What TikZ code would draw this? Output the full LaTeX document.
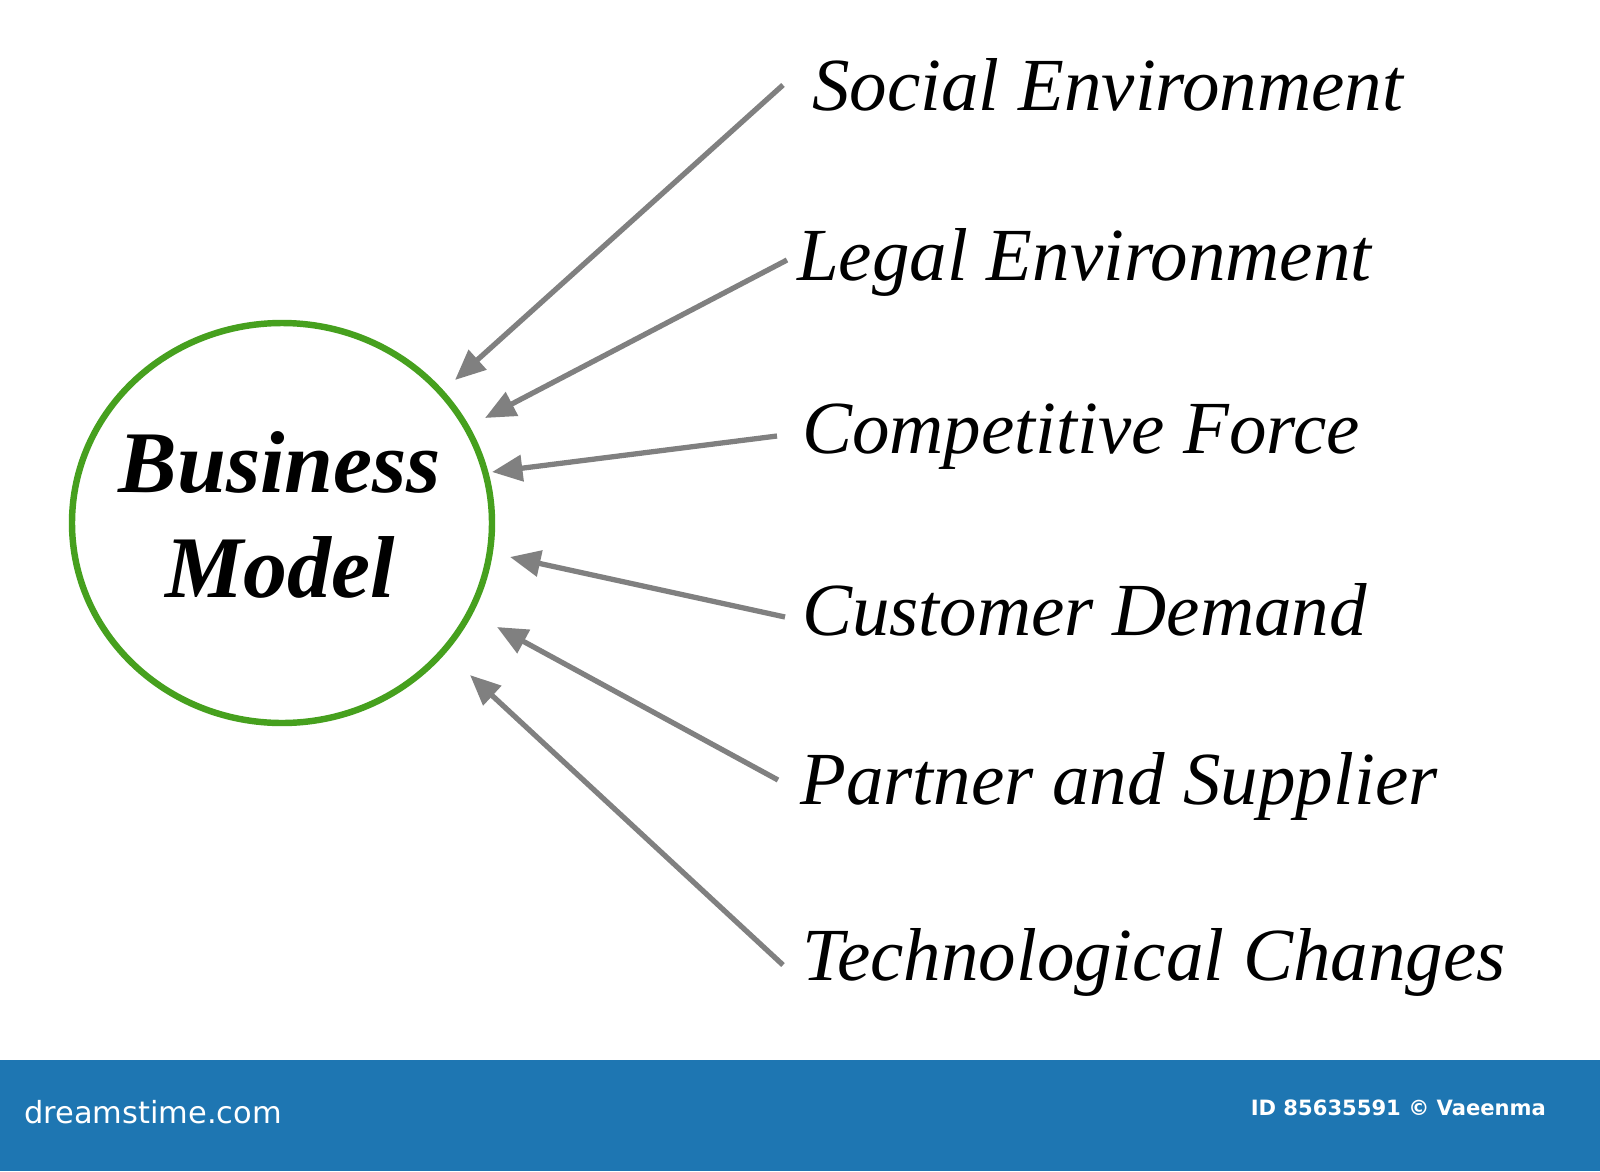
\documentclass[tikz,border=0pt]{standalone}
\usepackage{fontspec}
\setmainfont{Liberation Serif}
\newfontfamily\barfont{DejaVu Sans}
\usetikzlibrary{arrows.meta}
\definecolor{cgreen}{RGB}{70,160,30}
\definecolor{cgray}{RGB}{128,128,128}
\definecolor{cbar}{RGB}{30,118,178}
\begin{document}
\begin{tikzpicture}[x=0.03cm,y=-0.03cm,
  lbl/.style={anchor=west,inner sep=0,font=\fontsize{64}{68}\selectfont\itshape},
  arr/.style={draw=cgray,line width=4.5pt,-{Triangle[length=26pt,width=22pt,fill=cgray]}}]
\useasboundingbox (0,0) rectangle (1600,1171);
\fill[white] (0,0) rectangle (1600,1171);
\draw[cgreen,line width=5.5pt] (282,523) ellipse [x radius=210,y radius=200];
\node[align=center,font=\fontsize{75}{89}\selectfont\bfseries\itshape] (bm) at (280,515) {Business\\Model};
\node[lbl] (l1) at (812,85) {Social Environment};
\node[lbl] (l2) at (797,262) {Legal Environment};
\node[lbl] (l3) at (802,437) {Competitive Force};
\node[lbl] (l4) at (802,610) {Customer Demand};
\node[lbl] (l5) at (800,786) {Partner and Supplier};
\node[lbl] (l6) at (802,962) {Technological Changes};
\coordinate (s1) at (783,85); \coordinate (e1) at (455,380);
\coordinate (s2) at (787,260); \coordinate (e2) at (485,418);
\coordinate (s3) at (777,436); \coordinate (e3) at (492,472);
\coordinate (s4) at (785,617); \coordinate (e4) at (510,557);
\coordinate (s5) at (778,780); \coordinate (e5) at (497,627);
\coordinate (s6) at (783,965); \coordinate (e6) at (470,675);
\foreach \i in {1,...,6} \draw[arr] (s\i) -- (e\i);
\fill[cbar] (0,1060) rectangle (1600,1171);
\node[anchor=west,text=white,font=\barfont\fontsize{26}{28}\selectfont] (dt) at (20,1112) {dreamstime.com};
\node[anchor=east,text=white,font=\barfont\bfseries\fontsize{18}{20}\selectfont] (id) at (1550,1108) {ID 85635591 © Vaeenma};
\end{tikzpicture}
\end{document}
